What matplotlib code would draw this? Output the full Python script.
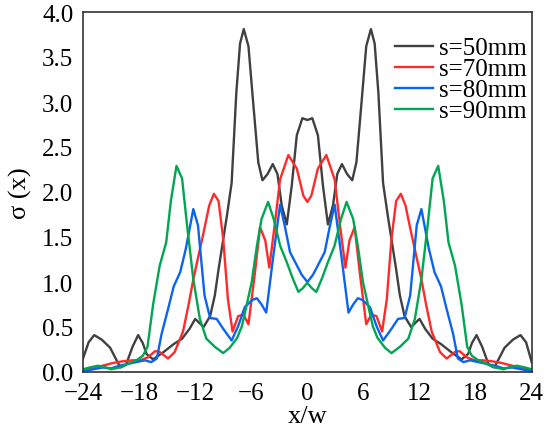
import matplotlib
matplotlib.use("Agg")
import matplotlib.pyplot as plt

# === Data (x/w vs sigma(x)) ===
x_50 = [-24.0, -23.4, -22.8, -22.0, -21.1, -20.6, -20.0, -19.4, -18.7, -18.1,
        -17.6, -17.2, -16.5, -15.4, -14.3, -13.4, -12.6, -12.0, -11.1, -10.4,
        -9.9, -9.5, -8.6, -8.1, -7.6, -7.2, -6.8, -6.3, -5.8, -5.25,
        -4.8, -4.25, -3.7, -3.2, -2.74, -2.2, -1.67, -1.13, -0.53, 0.0,
        0.53, 1.13, 1.67, 2.2, 2.74, 3.2, 3.7, 4.25, 4.8, 5.25,
        5.8, 6.3, 6.8, 7.2, 7.6, 8.1, 8.6, 9.5, 9.9, 10.4,
        11.1, 12.0, 12.6, 13.4, 14.3, 15.4, 16.5, 17.2, 17.6, 18.1,
        18.7, 19.4, 20.0, 20.6, 21.1, 22.0, 22.8, 23.4, 24.0]
s_50 = [0.15, 0.33, 0.41, 0.36, 0.27, 0.17, 0.05, 0.08, 0.28, 0.41,
        0.32, 0.20, 0.14, 0.22, 0.31, 0.37, 0.48, 0.59, 0.50, 0.62,
        0.85, 1.14, 1.74, 2.10, 3.10, 3.65, 3.81, 3.62, 3.00, 2.33,
        2.13, 2.20, 2.31, 2.20, 1.85, 1.64, 2.07, 2.63, 2.82, 2.80,
        2.82, 2.63, 2.07, 1.64, 1.85, 2.20, 2.31, 2.20, 2.13, 2.33,
        3.00, 3.62, 3.81, 3.65, 3.10, 2.10, 1.74, 1.14, 0.85, 0.62,
        0.50, 0.59, 0.48, 0.37, 0.31, 0.22, 0.14, 0.20, 0.32, 0.41,
        0.28, 0.08, 0.05, 0.17, 0.27, 0.36, 0.41, 0.33, 0.11]

x_70 = [-24.0, -22.9, -21.9, -20.8, -19.7, -18.7, -17.9, -17.1, -16.3, -15.9,
        -15.4, -14.9, -14.2, -13.3, -12.7, -12.2, -11.1, -10.5, -10.0, -9.5,
        -9.0, -8.5, -8.0, -7.4, -6.85, -6.3, -5.6, -5.06, -4.5, -4.07,
        -3.46, -2.92, -2.03, -1.13, -0.43, 0.0,
        0.43, 1.13, 2.03, 2.92, 3.46, 4.07, 4.5, 5.06, 5.6, 6.3,
        6.85, 7.4, 8.0, 8.5, 9.0, 9.5, 10.0, 10.5, 11.1, 12.2,
        12.7, 13.3, 14.2, 14.9, 15.4, 15.9, 16.3, 17.1, 17.9, 18.7,
        19.7, 20.8, 21.9, 22.9, 24.0]
s_70 = [0.02, 0.05, 0.07, 0.10, 0.12, 0.13, 0.13, 0.16, 0.23, 0.23,
        0.19, 0.15, 0.22, 0.45, 0.75, 1.03, 1.55, 1.85, 1.98, 1.90,
        1.48, 0.81, 0.45, 0.62, 0.64, 0.53, 1.11, 1.61, 1.46, 1.16,
        1.66, 2.14, 2.41, 2.26, 1.96, 1.89,
        1.96, 2.26, 2.41, 2.14, 1.66, 1.16, 1.46, 1.61, 1.11, 0.53,
        0.64, 0.62, 0.45, 0.81, 1.48, 1.90, 1.98, 1.85, 1.55, 1.03,
        0.75, 0.45, 0.22, 0.15, 0.19, 0.23, 0.23, 0.16, 0.13, 0.13,
        0.12, 0.10, 0.07, 0.05, 0.02]

x_80 = [-24.0, -22.9, -21.9, -21.0, -20.1, -19.2, -18.3, -17.4, -16.7, -16.1,
        -15.6, -14.9, -14.3, -13.6, -13.0, -12.2, -11.7, -11.0, -10.4, -9.7,
        -9.0, -8.1, -7.4, -6.7, -5.9, -5.4, -4.9, -4.4, -3.64, -2.92,
        -2.39, -1.85, -1.3, -0.6, 0.0,
        0.6, 1.3, 1.85, 2.39, 2.92, 3.64, 4.4, 4.9, 5.4, 5.9,
        6.7, 7.4, 8.1, 9.0, 9.7, 10.4, 11.0, 11.7, 12.2, 13.0,
        13.6, 14.3, 14.9, 15.6, 16.1, 16.7, 17.4, 18.3, 19.2, 20.1,
        21.0, 21.9, 22.9, 24.0]
s_80 = [0.01, 0.03, 0.05, 0.04, 0.07, 0.09, 0.11, 0.13, 0.11, 0.15,
        0.42, 0.70, 0.95, 1.11, 1.37, 1.81, 1.63, 0.85, 0.60, 0.59,
        0.48, 0.35, 0.51, 0.72, 0.80, 0.82, 0.75, 0.66, 1.29, 1.86,
        1.61, 1.33, 1.22, 1.08, 1.00,
        1.08, 1.22, 1.33, 1.61, 1.86, 1.29, 0.66, 0.75, 0.82, 0.80,
        0.72, 0.51, 0.35, 0.48, 0.59, 0.60, 0.85, 1.63, 1.81, 1.37,
        1.11, 0.95, 0.70, 0.42, 0.15, 0.11, 0.13, 0.11, 0.09, 0.07,
        0.04, 0.05, 0.03, 0.01]

x_90 = [-24.0, -23.3, -22.4, -21.5, -21.0, -20.1, -19.2, -18.3, -17.6, -17.1,
        -16.5, -15.8, -15.1, -14.6, -14.0, -13.4, -12.9, -12.2, -11.5, -10.8,
        -9.9, -9.0, -8.3, -7.5, -7.0, -6.5, -5.95, -5.4, -4.9, -4.2,
        -3.6, -2.9, -2.2, -1.6, -0.96, -0.5, 0.0,
        0.5, 0.96, 1.6, 2.2, 2.9, 3.6, 4.2, 4.9, 5.4, 5.95,
        6.5, 7.0, 7.5, 8.3, 9.0, 9.9, 10.8, 11.5, 12.2, 12.9,
        13.4, 14.0, 14.6, 15.1, 15.8, 16.5, 17.1, 17.6, 18.3, 19.2,
        20.1, 21.0, 21.5, 22.4, 23.3, 24.0]
s_90 = [0.03, 0.05, 0.07, 0.05, 0.03, 0.05, 0.09, 0.13, 0.18, 0.28,
        0.75, 1.18, 1.44, 1.90, 2.29, 2.15, 1.66, 1.03, 0.59, 0.37,
        0.28, 0.21, 0.27, 0.38, 0.51, 0.74, 1.00, 1.40, 1.70, 1.89,
        1.70, 1.40, 1.22, 1.05, 0.89, 0.93, 0.99,
        0.93, 0.89, 1.05, 1.22, 1.40, 1.70, 1.89, 1.70, 1.40, 1.00,
        0.74, 0.51, 0.38, 0.27, 0.21, 0.28, 0.37, 0.59, 1.03, 1.66,
        2.15, 2.29, 1.90, 1.44, 1.18, 0.75, 0.28, 0.18, 0.13, 0.09,
        0.05, 0.03, 0.05, 0.07, 0.05, 0.03]

labels = ["s=50mm", "s=70mm", "s=80mm", "s=90mm"]
x_ticks = [-24, -18, -12, -6, 0, 6, 12, 18, 24]
y_ticks = [0.0, 0.5, 1.0, 1.5, 2.0, 2.5, 3.0, 3.5, 4.0]

# === Plot ===
plt.rcParams["font.family"] = ["Liberation Serif", "DejaVu Serif"]

fig = plt.figure(figsize=(5.5, 4.31), dpi=100)
ax = fig.add_axes([83 / 550, 58 / 431, 448.7 / 550, 360 / 431])

ax.plot(x_50, s_50, color="#404040", lw=1.7, label=labels[0])
ax.plot(x_70, s_70, color="#ff2a2a", lw=1.7, label=labels[1])
ax.plot(x_80, s_80, color="#0a64f0", lw=1.7, label=labels[2])
ax.plot(x_90, s_90, color="#00a651", lw=1.7, label=labels[3])

ax.set_xlim(-24, 24)
ax.set_ylim(0, 4.0)
ax.set_xticks(x_ticks)
ax.set_xticklabels([("\u2212%d" % -t) if t < 0 else "%d" % t for t in x_ticks])
ax.set_yticks(y_ticks)
ax.set_yticklabels(["%.1f" % t for t in y_ticks])
ax.tick_params(length=0, labelsize=18, pad=7)

for sp in ax.spines.values():
    sp.set_color("#333333")
    sp.set_linewidth(1.2)

ax.set_xlabel("x/w", fontsize=19, labelpad=1)
ax.set_ylabel("\u03c3 (x)", fontsize=19, labelpad=7)

ax.legend(loc="upper right", bbox_to_anchor=(1.008, 0.955), frameon=False,
          fontsize=18, handlelength=1.5, handletextpad=0.25, labelspacing=-0.06,
          borderaxespad=0.0, borderpad=0.35)

fig.savefig("out.png", dpi=100)
